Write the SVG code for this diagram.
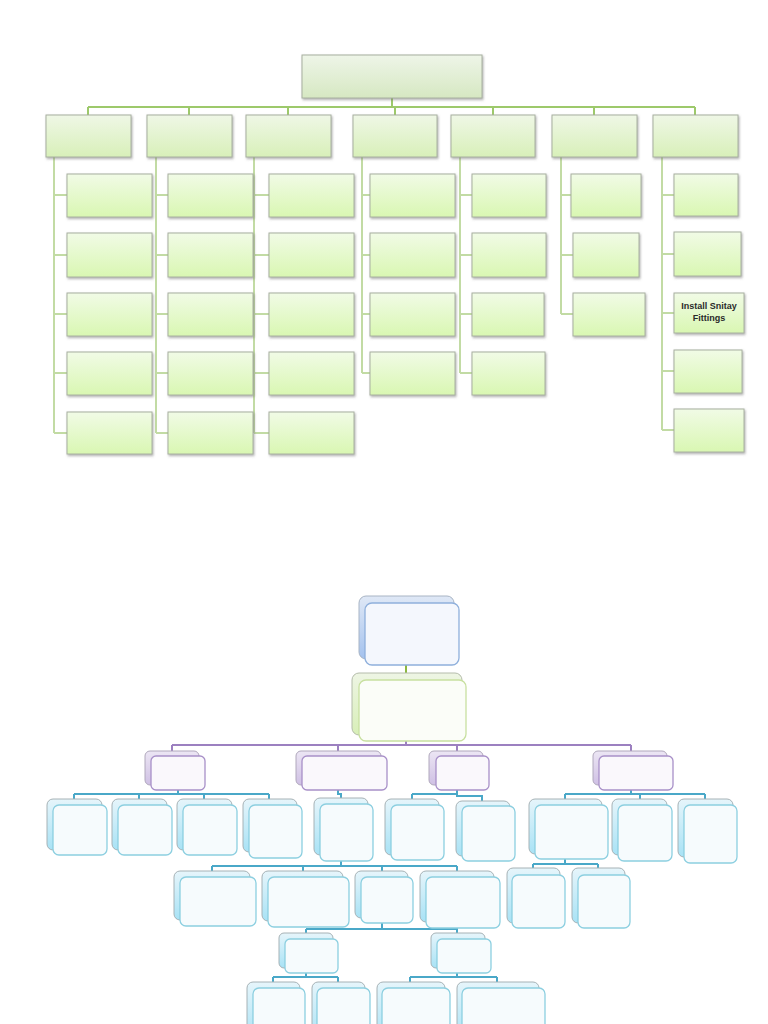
<svg xmlns="http://www.w3.org/2000/svg" width="768" height="1024" viewBox="0 0 768 1024">
<defs>
<linearGradient id="gRoot" x1="0" y1="0" x2="0" y2="1"><stop offset="0" stop-color="#eef5e8"/><stop offset="1" stop-color="#d6e8c2"/></linearGradient>
<linearGradient id="gL1" x1="0" y1="0" x2="0" y2="1"><stop offset="0" stop-color="#eff7e6"/><stop offset="1" stop-color="#d8f0b9"/></linearGradient>
<linearGradient id="gCh" x1="0" y1="0" x2="0" y2="1"><stop offset="0" stop-color="#f1fbe6"/><stop offset="1" stop-color="#d9f7b2"/></linearGradient>
<linearGradient id="gBlueBack" x1="0" y1="0" x2="0" y2="1"><stop offset="0" stop-color="#e6f5fb"/><stop offset="1" stop-color="#a8e2f5"/></linearGradient>
<linearGradient id="gRootBack" x1="0" y1="0" x2="0" y2="1"><stop offset="0" stop-color="#dfe8f6"/><stop offset="1" stop-color="#a4c2ee"/></linearGradient>
<linearGradient id="gGreenBack" x1="0" y1="0" x2="0" y2="1"><stop offset="0" stop-color="#eef5e4"/><stop offset="1" stop-color="#d8efb8"/></linearGradient>
<linearGradient id="gPurpBack" x1="0" y1="0" x2="0" y2="1"><stop offset="0" stop-color="#ece6f4"/><stop offset="1" stop-color="#cfc0e4"/></linearGradient>
<filter id="sh" x="-10%" y="-10%" width="130%" height="140%"><feDropShadow dx="1" dy="1.5" stdDeviation="1" flood-color="#707070" flood-opacity="0.55"/></filter>
</defs>
<style>
.root{fill:url(#gRoot);stroke:#a8b0a0;stroke-width:1;filter:url(#sh)}
.l1{fill:url(#gL1);stroke:#a8b0a0;stroke-width:1;filter:url(#sh)}
.ch{fill:url(#gCh);stroke:#a8b0a0;stroke-width:1;filter:url(#sh)}
.cm{fill:none;stroke:#9dc96b;stroke-width:2}
.cs{fill:none;stroke:#c2dba4;stroke-width:2}
.bb{fill:url(#gBlueBack);stroke:#a6b2b6;stroke-width:1}
.bf{fill:#f6fbfd;stroke:#8ccfe0;stroke-width:1.3}
.rb{fill:url(#gRootBack);stroke:#a8b4c4;stroke-width:1}
.rf{fill:#f4f7fd;stroke:#8fb0dc;stroke-width:1.3}
.gb{fill:url(#gGreenBack);stroke:#b4bcaa;stroke-width:1}
.gf{fill:#fbfdf8;stroke:#c8e0a0;stroke-width:1.3}
.pb{fill:url(#gPurpBack);stroke:#b0a8bc;stroke-width:1}
.pf{fill:#faf8fc;stroke:#a890c8;stroke-width:1.3}
.cb{fill:none;stroke:#4aa8c8;stroke-width:2}
.cp{fill:none;stroke:#9c80c0;stroke-width:2}
.cg{fill:none;stroke:#8cb840;stroke-width:2}
.lbl{font-family:"Liberation Sans",Arial,sans-serif;font-weight:bold;font-size:9px;fill:#2a2a2a;text-anchor:middle}
</style>

<!-- Top chart connectors -->
<g id="top-connectors">
<path class="cm" d="M392,98 V107 M88,107 H695 M88,107 V115 M189,107 V115 M288,107 V115 M395,107 V115 M493,107 V115 M594,107 V115 M695,107 V115"/>
<path class="cs" d="M54,157 V433 M54,195 H67 M54,255 H67 M54,314 H67 M54,373 H67 M54,433 H67"/>
<path class="cs" d="M156,157 V433 M156,195 H168 M156,255 H168 M156,314 H168 M156,373 H168 M156,433 H168"/>
<path class="cs" d="M254,157 V433 M254,195 H269 M254,255 H269 M254,314 H269 M254,373 H269 M254,433 H269"/>
<path class="cs" d="M362,157 V373 M362,195 H370 M362,255 H370 M362,314 H370 M362,373 H370"/>
<path class="cs" d="M460,157 V373 M460,195 H472 M460,255 H472 M460,314 H472 M460,373 H472"/>
<path class="cs" d="M561,157 V314 M561,195 H572 M561,255 H573 M561,314 H573"/>
<path class="cs" d="M662,157 V430 M662,195 H674 M662,254 H674 M662,313 H674 M662,371 H674 M662,430 H674"/>
</g>

<!-- Top chart nodes -->
<g id="t-root"><rect class="root" x="302" y="55" width="180" height="43"/></g>
<g id="t-a"><rect class="l1" x="46" y="115" width="85" height="42"/></g>
<g id="t-b"><rect class="l1" x="147" y="115" width="85" height="42"/></g>
<g id="t-c"><rect class="l1" x="246" y="115" width="85" height="42"/></g>
<g id="t-d"><rect class="l1" x="353" y="115" width="84" height="42"/></g>
<g id="t-e"><rect class="l1" x="451" y="115" width="84" height="42"/></g>
<g id="t-f"><rect class="l1" x="552" y="115" width="85" height="42"/></g>
<g id="t-g"><rect class="l1" x="653" y="115" width="85" height="42"/></g>

<g id="t-a1"><rect class="ch" x="67" y="174" width="85" height="43"/></g>
<g id="t-a2"><rect class="ch" x="67" y="233" width="85" height="44"/></g>
<g id="t-a3"><rect class="ch" x="67" y="293" width="85" height="43"/></g>
<g id="t-a4"><rect class="ch" x="67" y="352" width="85" height="43"/></g>
<g id="t-a5"><rect class="ch" x="67" y="412" width="85" height="42"/></g>
<g id="t-b1"><rect class="ch" x="168" y="174" width="85" height="43"/></g>
<g id="t-b2"><rect class="ch" x="168" y="233" width="85" height="44"/></g>
<g id="t-b3"><rect class="ch" x="168" y="293" width="85" height="43"/></g>
<g id="t-b4"><rect class="ch" x="168" y="352" width="85" height="43"/></g>
<g id="t-b5"><rect class="ch" x="168" y="412" width="85" height="42"/></g>
<g id="t-c1"><rect class="ch" x="269" y="174" width="85" height="43"/></g>
<g id="t-c2"><rect class="ch" x="269" y="233" width="85" height="44"/></g>
<g id="t-c3"><rect class="ch" x="269" y="293" width="85" height="43"/></g>
<g id="t-c4"><rect class="ch" x="269" y="352" width="85" height="43"/></g>
<g id="t-c5"><rect class="ch" x="269" y="412" width="85" height="42"/></g>
<g id="t-d1"><rect class="ch" x="370" y="174" width="85" height="43"/></g>
<g id="t-d2"><rect class="ch" x="370" y="233" width="85" height="44"/></g>
<g id="t-d3"><rect class="ch" x="370" y="293" width="85" height="43"/></g>
<g id="t-d4"><rect class="ch" x="370" y="352" width="85" height="43"/></g>
<g id="t-e1"><rect class="ch" x="472" y="174" width="74" height="43"/></g>
<g id="t-e2"><rect class="ch" x="472" y="233" width="74" height="44"/></g>
<g id="t-e3"><rect class="ch" x="472" y="293" width="72" height="43"/></g>
<g id="t-e4"><rect class="ch" x="472" y="352" width="73" height="43"/></g>
<g id="t-f1"><rect class="ch" x="571" y="174" width="70" height="43"/></g>
<g id="t-f2"><rect class="ch" x="573" y="233" width="66" height="44"/></g>
<g id="t-f3"><rect class="ch" x="573" y="293" width="72" height="43"/></g>
<g id="t-g1"><rect class="ch" x="674" y="174" width="64" height="42"/></g>
<g id="t-g2"><rect class="ch" x="674" y="232" width="67" height="44"/></g>
<g id="t-g3"><rect class="ch" x="674" y="293" width="70" height="40"/><text class="lbl" x="709" y="309">Install Snitay</text><text class="lbl" x="709" y="321">Fittings</text></g>
<g id="t-g4"><rect class="ch" x="674" y="350" width="68" height="43"/></g>
<g id="t-g5"><rect class="ch" x="674" y="409" width="70" height="43"/></g>

<!-- Bottom chart connectors -->
<g id="bottom-connectors">
<path class="cg" d="M406,665 V675"/>
<path class="cp" d="M406,740 V745 M172,745 H631 M172,745 V751 M338,745 V751 M457,745 V751 M631,745 V751"/>
<path class="cb" d="M178,790 V794 M74,794 H269 M74,794 V800 M139,794 V800 M204,794 V800 M269,794 V800"/>
<path class="cb" d="M338,790 V794 H341 V799"/>
<path class="cb" d="M457,790 V794 M412,794 H457 V796 H482 V801 M412,794 V800"/>
<path class="cb" d="M631,790 V794 M565,794 H705 M565,794 V800 M640,794 V800 M705,794 V800"/>
<path class="cb" d="M565,859 V864 M533,864 H598 M533,864 V869 M598,864 V869"/>
<path class="cb" d="M341,861 V866 M212,866 H457 M212,866 V872 M303,866 V872 M382,866 V872 M457,866 V872"/>
<path class="cb" d="M382,923 V929 M306,929 H457 M306,929 V934 M457,928 V934"/>
<path class="cb" d="M306,973 V977 M273,977 H338 M273,977 V983 M338,977 V983"/>
<path class="cb" d="M457,973 V977 M410,977 H497 M410,977 V983 M497,977 V983"/>
</g>

<!-- Bottom chart nodes -->
<g id="b-root"><rect class="rb" x="359" y="596" width="95" height="63" rx="7"/><rect class="rf" x="365" y="603" width="94" height="62" rx="7"/></g>
<g id="b-2"><rect class="gb" x="352" y="673" width="110" height="62" rx="7"/><rect class="gf" x="359" y="680" width="107" height="61" rx="7"/></g>

<g id="b-A"><rect class="pb" x="145" y="751" width="54" height="34" rx="5"/><rect class="pf" x="151" y="756" width="54" height="34" rx="5"/></g>
<g id="b-B"><rect class="pb" x="296" y="751" width="85" height="34" rx="5"/><rect class="pf" x="302" y="756" width="85" height="34" rx="5"/></g>
<g id="b-C"><rect class="pb" x="429" y="751" width="54" height="34" rx="5"/><rect class="pf" x="436" y="756" width="53" height="34" rx="5"/></g>
<g id="b-D"><rect class="pb" x="593" y="751" width="74" height="34" rx="5"/><rect class="pf" x="599" y="756" width="74" height="34" rx="5"/></g>

<g id="b-A1"><rect class="bb" x="47" y="799" width="55" height="51" rx="6"/><rect class="bf" x="53" y="805" width="54" height="50" rx="6"/></g>
<g id="b-A2"><rect class="bb" x="112" y="799" width="55" height="51" rx="6"/><rect class="bf" x="118" y="805" width="54" height="50" rx="6"/></g>
<g id="b-A3"><rect class="bb" x="177" y="799" width="55" height="51" rx="6"/><rect class="bf" x="183" y="805" width="54" height="50" rx="6"/></g>
<g id="b-A4"><rect class="bb" x="243" y="799" width="54" height="53" rx="6"/><rect class="bf" x="249" y="805" width="53" height="53" rx="6"/></g>
<g id="b-B1"><rect class="bb" x="314" y="798" width="54" height="57" rx="6"/><rect class="bf" x="320" y="804" width="53" height="57" rx="6"/></g>
<g id="b-C1"><rect class="bb" x="385" y="799" width="54" height="56" rx="6"/><rect class="bf" x="391" y="805" width="53" height="55" rx="6"/></g>
<g id="b-C2"><rect class="bb" x="456" y="801" width="54" height="55" rx="6"/><rect class="bf" x="462" y="806" width="53" height="55" rx="6"/></g>
<g id="b-D1"><rect class="bb" x="529" y="799" width="73" height="55" rx="6"/><rect class="bf" x="535" y="805" width="73" height="54" rx="6"/></g>
<g id="b-D2"><rect class="bb" x="612" y="799" width="55" height="56" rx="6"/><rect class="bf" x="618" y="805" width="54" height="56" rx="6"/></g>
<g id="b-D3"><rect class="bb" x="678" y="799" width="55" height="58" rx="6"/><rect class="bf" x="684" y="805" width="53" height="58" rx="6"/></g>

<g id="b-D1a"><rect class="bb" x="507" y="868" width="53" height="55" rx="6"/><rect class="bf" x="512" y="875" width="53" height="53" rx="6"/></g>
<g id="b-D1b"><rect class="bb" x="572" y="868" width="53" height="55" rx="6"/><rect class="bf" x="578" y="875" width="52" height="53" rx="6"/></g>

<g id="b-B1a"><rect class="bb" x="174" y="871" width="76" height="49" rx="6"/><rect class="bf" x="180" y="877" width="76" height="49" rx="6"/></g>
<g id="b-B1b"><rect class="bb" x="262" y="871" width="81" height="50" rx="6"/><rect class="bf" x="268" y="877" width="81" height="50" rx="6"/></g>
<g id="b-B1c"><rect class="bb" x="355" y="871" width="53" height="47" rx="6"/><rect class="bf" x="361" y="877" width="52" height="46" rx="6"/></g>
<g id="b-B1d"><rect class="bb" x="420" y="871" width="74" height="51" rx="6"/><rect class="bf" x="426" y="877" width="74" height="51" rx="6"/></g>

<g id="b-E1"><rect class="bb" x="279" y="933" width="54" height="35" rx="5"/><rect class="bf" x="285" y="939" width="53" height="34" rx="5"/></g>
<g id="b-E2"><rect class="bb" x="431" y="933" width="54" height="35" rx="5"/><rect class="bf" x="437" y="939" width="54" height="34" rx="5"/></g>

<g id="b-E1a"><rect class="bb" x="247" y="982" width="53" height="60" rx="6"/><rect class="bf" x="253" y="988" width="52" height="60" rx="6"/></g>
<g id="b-E1b"><rect class="bb" x="312" y="982" width="53" height="60" rx="6"/><rect class="bf" x="317" y="988" width="53" height="60" rx="6"/></g>
<g id="b-E2a"><rect class="bb" x="377" y="982" width="68" height="60" rx="6"/><rect class="bf" x="382" y="988" width="68" height="60" rx="6"/></g>
<g id="b-E2b"><rect class="bb" x="457" y="982" width="82" height="60" rx="6"/><rect class="bf" x="462" y="988" width="83" height="60" rx="6"/></g>
</svg>
